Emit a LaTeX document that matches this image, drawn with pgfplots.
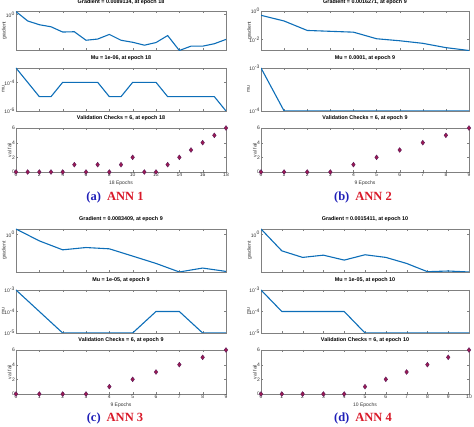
\documentclass[border=0pt]{standalone}
\usepackage{fontspec}
\setmainfont{Liberation Sans}
\newfontfamily\serifb{Liberation Serif}
\usepackage{pgfplots}
\pgfplotsset{compat=1.18}
\definecolor{mblue}{rgb}{0.05,0.43,0.72}
\definecolor{vfill}{rgb}{0.62,0.10,0.32}
\definecolor{vdraw}{rgb}{0.35,0.10,0.35}
\definecolor{labblue}{rgb}{0.12,0.12,0.72}
\definecolor{labred}{rgb}{0.85,0.10,0.16}
\newcommand{\sm}{\fontsize{5}{6}\selectfont}
\newcommand{\tl}{\fontsize{5.4}{6}\selectfont}
\pgfplotsset{
  mybase/.style={scale only axis, height=43pt, anchor=north west,
    axis line style={black!50}, tick style={black!50},
    major tick length=2pt, tick align=inside,
    ticklabel style={font=\sm, text=black!80, inner sep=1pt},
    title style={font=\tl\bfseries, at={(0.5,1)}, anchor=south, inner sep=1.5pt},
    ylabel style={font=\sm, text=black!80, anchor=center},
    xlabel style={font=\sm, text=black!80},
    /pgf/number format/assume math mode=true,
    yminorticks=false, xminorticks=false},
  mylw/.style={width=210pt}, myrw/.style={width=208pt},
  mygrad/.style={mybase, xticklabels={}, ylabel={gradient},
    ylabel style={at={(axis description cs:-0.055,0.5)}}},
  mymu/.style={mybase, xticklabels={}, ylabel={mu},
    ylabel style={at={(axis description cs:-0.06,0.5)}}},
  myval/.style={mybase, height=44pt, ymin=0, ymax=6, ytick={0,2,4,6}, clip=false,
    ylabel={val fail}, ylabel style={at={(axis description cs:-0.03,0.5)}},
    xlabel style={at={(axis description cs:0.5,-0.17)}, anchor=north, inner sep=1pt}},
  mytop/.style={height=39.5pt, title style={inner sep=0.5pt}},
}
\tikzset{
  bl/.style={line width=1.1pt, color=mblue},
  vmark/.style={only marks, mark=diamond*, mark size=2.4pt,
    mark options={fill=vfill, draw=vdraw, line width=0.4pt}},
}
\begin{document}
\begin{tikzpicture}
\path[use as bounding box] (0,0) rectangle (474pt,427pt);
% ---------------- (a) ----------------
\begin{axis}[mygrad, mylw, mytop, ymode=log, at={(16pt,416pt)}, xmin=0, xmax=18, xtick={0,2,...,18},
  ymin=0.1227, ymax=1.227, ytick={1}, yticklabels={10\textsuperscript{0}},
  title={Gradient = 0.0089134, at epoch 18}]
\addplot[bl] coordinates {(0,1.186) (1,0.687) (2,0.551) (3,0.489) (4,0.360) (5,0.366) (6,0.223) (7,0.239) (8,0.313) (9,0.223) (10,0.198) (11,0.167) (12,0.195) (13,0.293) (14,0.1228) (15,0.158) (16,0.158) (17,0.182) (18,0.234)};
\end{axis}
\begin{axis}[mymu, mylw, ymode=log, at={(16pt,359pt)}, xmin=0, xmax=18, xtick={0,2,...,18},
  ymin=1e-6, ymax=1e-3, ytick={1e-6,1e-4}, yticklabels={10\textsuperscript{-6},10\textsuperscript{-4}},
  title={Mu = 1e-06, at epoch 18}]
\addplot[bl] coordinates {(0,1e-3) (1,1e-4) (2,1e-5) (3,1e-5) (4,1e-4) (5,1e-4) (6,1e-4) (7,1e-4) (8,1e-5) (9,1e-5) (10,1e-4) (11,1e-4) (12,1e-4) (13,1e-5) (14,1e-5) (15,1e-5) (16,1e-5) (17,1e-5) (18,1e-6)};
\end{axis}
\begin{axis}[myval, mylw, at={(16pt,299pt)}, xmin=0, xmax=18, xtick={0,2,...,18},
  title={Validation Checks = 6, at epoch 18}, xlabel={18 Epochs}]
\addplot[vmark] coordinates {(0,0) (1,0) (2,0) (3,0) (4,0) (5,1) (6,0) (7,1) (8,0) (9,1) (10,2) (11,0) (12,0) (13,1) (14,2) (15,3) (16,4) (17,5) (18,6)};
\end{axis}
% ---------------- (b) ----------------
\begin{axis}[mygrad, myrw, mytop, ymode=log, at={(261pt,416pt)}, xmin=0, xmax=9, xtick={0,...,9},
  ymin=0.0016271, ymax=1, ytick={0.01,1}, yticklabels={10\textsuperscript{-2},10\textsuperscript{0}},
  title={Gradient = 0.0016271, at epoch 9}]
\addplot[bl] coordinates {(0,0.498) (1,0.196) (2,0.0423) (3,0.0368) (4,0.0320) (5,0.01097) (6,0.00792) (7,0.00521) (8,0.00259) (9,0.0016271)};
\end{axis}
\begin{axis}[mymu, myrw, ymode=log, at={(261pt,359pt)}, xmin=0, xmax=9, xtick={0,...,9},
  ymin=1e-4, ymax=1e-3, ytick={1e-4,1e-3}, yticklabels={10\textsuperscript{-4},10\textsuperscript{-3}},
  title={Mu = 0.0001, at epoch 9}]
\addplot[bl] coordinates {(0,1e-3) (1,1e-4) (2,1e-4) (3,1e-4) (4,1e-4) (5,1e-4) (6,1e-4) (7,1e-4) (8,1e-4) (9,1e-4)};
\end{axis}
\begin{axis}[myval, myrw, at={(261pt,299pt)}, xmin=0, xmax=9, xtick={0,...,9},
  title={Validation Checks = 6, at epoch 9}, xlabel={9 Epochs}]
\addplot[vmark] coordinates {(0,0) (1,0) (2,0) (3,0) (4,1) (5,2) (6,3) (7,4) (8,5) (9,6)};
\end{axis}
% ---------------- (c) ----------------
\begin{axis}[mygrad, mylw, ymode=log, at={(16pt,198pt)}, xmin=0, xmax=9, xtick={0,...,9},
  ymin=0.1328, ymax=1.327, ytick={1}, yticklabels={10\textsuperscript{0}},
  title={Gradient = 0.0083409, at epoch 9}]
\addplot[bl] coordinates {(0,1.327) (1,0.702) (2,0.435) (3,0.492) (4,0.459) (5,0.311) (6,0.210) (7,0.1329) (8,0.164) (9,0.137)};
\end{axis}
\begin{axis}[mymu, mylw, ymode=log, at={(16pt,137pt)}, xmin=0, xmax=9, xtick={0,...,9},
  ymin=1e-5, ymax=1e-3, ytick={1e-5,1e-4,1e-3}, yticklabels={10\textsuperscript{-5},10\textsuperscript{-4},10\textsuperscript{-3}},
  title={Mu = 1e-05, at epoch 9}]
\addplot[bl] coordinates {(0,1e-3) (1,1e-4) (2,1e-5) (3,1e-5) (4,1e-5) (5,1e-5) (6,1e-4) (7,1e-4) (8,1e-5) (9,1e-5)};
\end{axis}
\begin{axis}[myval, mylw, at={(16pt,77pt)}, xmin=0, xmax=9, xtick={0,...,9},
  title={Validation Checks = 6, at epoch 9}, xlabel={9 Epochs}]
\addplot[vmark] coordinates {(0,0) (1,0) (2,0) (3,0) (4,1) (5,2) (6,3) (7,4) (8,5) (9,6)};
\end{axis}
% ---------------- (d) ----------------
\begin{axis}[mygrad, myrw, ymode=log, at={(261pt,198pt)}, xmin=0, xmax=10, xtick={0,...,10},
  ymin=0.1328, ymax=1.327, ytick={1}, yticklabels={10\textsuperscript{0}},
  title={Gradient = 0.0015411, at epoch 10}]
\addplot[bl] coordinates {(0,1.327) (1,0.412) (2,0.290) (3,0.327) (4,0.251) (5,0.334) (6,0.290) (7,0.210) (8,0.135) (9,0.140) (10,0.1329)};
\end{axis}
\begin{axis}[mymu, myrw, ymode=log, at={(261pt,137pt)}, xmin=0, xmax=10, xtick={0,...,10},
  ymin=1e-5, ymax=1e-3, ytick={1e-5,1e-4,1e-3}, yticklabels={10\textsuperscript{-5},10\textsuperscript{-4},10\textsuperscript{-3}},
  title={Mu = 1e-05, at epoch 10}]
\addplot[bl] coordinates {(0,1e-3) (1,1e-4) (2,1e-4) (3,1e-4) (4,1e-4) (5,1e-5) (6,1e-5) (7,1e-5) (8,1e-5) (9,1e-5) (10,1e-5)};
\end{axis}
\begin{axis}[myval, myrw, at={(261pt,77pt)}, xmin=0, xmax=10, xtick={0,...,10},
  title={Validation Checks = 6, at epoch 10}, xlabel={10 Epochs}]
\addplot[vmark] coordinates {(0,0) (1,0) (2,0) (3,0) (4,0) (5,1) (6,2) (7,3) (8,4) (9,5) (10,6)};
\end{axis}
% ---------------- panel labels ----------------
\node[font=\serifb\bfseries\fontsize{12.5}{14}\selectfont] at (115pt,229.5pt) {\textcolor{labblue}{(a)}\hspace{6pt}\textcolor{labred}{ANN 1}};
\node[font=\serifb\bfseries\fontsize{12.5}{14}\selectfont] at (363pt,229.5pt) {\textcolor{labblue}{(b)}\hspace{6pt}\textcolor{labred}{ANN 2}};
\node[font=\serifb\bfseries\fontsize{12.5}{14}\selectfont] at (115pt,8.5pt) {\textcolor{labblue}{(c)}\hspace{6pt}\textcolor{labred}{ANN 3}};
\node[font=\serifb\bfseries\fontsize{12.5}{14}\selectfont] at (363pt,8.5pt) {\textcolor{labblue}{(d)}\hspace{6pt}\textcolor{labred}{ANN 4}};
\end{tikzpicture}
\end{document}
